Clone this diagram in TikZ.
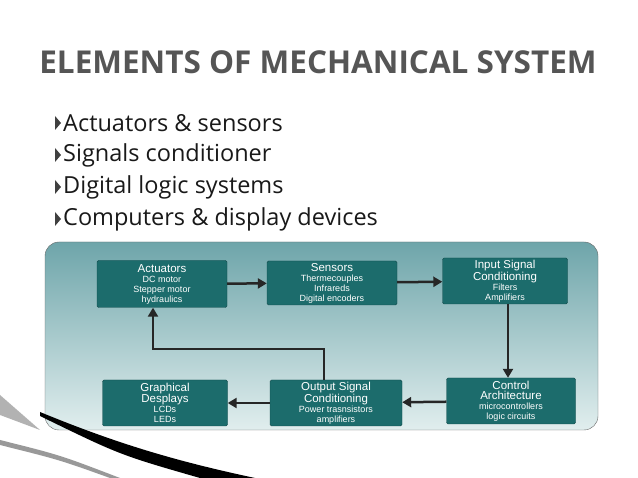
\documentclass[tikz,border=0pt]{standalone}
\usepackage{fontspec}
\setmainfont{Open Sans}
\newfontfamily\boxfont{Liberation Sans}
\usetikzlibrary{arrows.meta}
\definecolor{boxc}{RGB}{28,108,108}
\definecolor{titc}{RGB}{85,85,85}
\definecolor{pantop}{RGB}{110,165,170}
\definecolor{panbot}{RGB}{225,238,238}
\tikzset{
 blk/.style={fill=boxc,draw=boxc!70!black,rounded corners=1.5pt,minimum width=#1,inner sep=1pt,align=center,text=white,font=\boxfont\fontsize{9}{10}\selectfont},
 arr/.style={line width=2.5pt,draw=black!85,-{Triangle[length=9pt,width=10pt]}},
 bul/.style={anchor=west,inner sep=0pt,font=\fontsize{23.5}{26}\selectfont,text=black!90}
}
\newcommand{\hdf}{\fontsize{11.5}{12}\selectfont}
\begin{document}
\begin{tikzpicture}[x=1pt,y=-1pt]
\useasboundingbox (0,0) rectangle (638,478);
\fill[white] (0,0) rectangle (638,478);
\node[font=\bfseries\fontsize{31.5}{34}\selectfont,text=titc] (title) at (318,62) {ELEMENTS OF MECHANICAL SYSTEM};
\foreach \t [count=\i] in {Actuators \& sensors,Signals conditioner,Digital logic systems,Computers \& display devices}{
  \node[bul] (b\i) at (63,123+32*\i-32) {\t};
  \fill[black!75] (55,116+32*\i-32) -- (61,123+32*\i-32) -- (55,130+32*\i-32) -- cycle;
}
\shade[top color=pantop,bottom color=panbot,draw=black!60,rounded corners=14pt] (45,242) rectangle (598,430);
\node[blk=130pt,minimum height=47pt] (act) at (162,284) {\hdf Actuators\\DC motor\\Stepper motor\\hydraulics};
\node[blk=130pt,minimum height=44pt] (sen) at (332,283) {\hdf Sensors\\Thermecouples\\Infrareds\\Digital encoders};
\node[blk=125pt,minimum height=46pt] (inp) at (505,281) {\hdf Input Signal\\\hdf Conditioning\\Filters\\Amplifiers};
\node[blk=125pt,minimum height=46pt] (gra) at (165,403) {\hdf Graphical\\\hdf Desplays\\LCDs\\LEDs};
\node[blk=132pt,minimum height=46pt] (out) at (336,403) {\hdf Output Signal\\\hdf Conditioning\\Power trasnsistors\\amplifiers};
\node[blk=129pt,minimum height=46pt] (con) at (511,401) {\hdf Control\\\hdf Architecture\\microcontrollers\\logic circuits};
\draw[arr] (act) -- (sen);
\draw[arr] (sen) -- (inp);
\draw[arr] (inp.south -| 508,0) -- (con.north -| 508,0);
\draw[arr] (con) -- (out);
\draw[arr] (out) -- (gra);
\coordinate (fa) at (324,349);
\coordinate (fb) at (153,349);
\draw[arr] (out.north -| fa) -- (fa) -- (fb) -- (act.south -| fb);
% decorative swoosh
\fill[black!30] (0,395) -- (40,430) -- (0,415) -- cycle;
\fill[black] (40,412) .. controls (120,445) and (180,462) .. (255,478) -- (200,478) .. controls (120,455) .. (40,416) -- cycle;
\fill[black!40] (0,440) .. controls (60,455) .. (120,478) -- (110,478) .. controls (60,460) .. (0,445) -- cycle;
\end{tikzpicture}
\end{document}
